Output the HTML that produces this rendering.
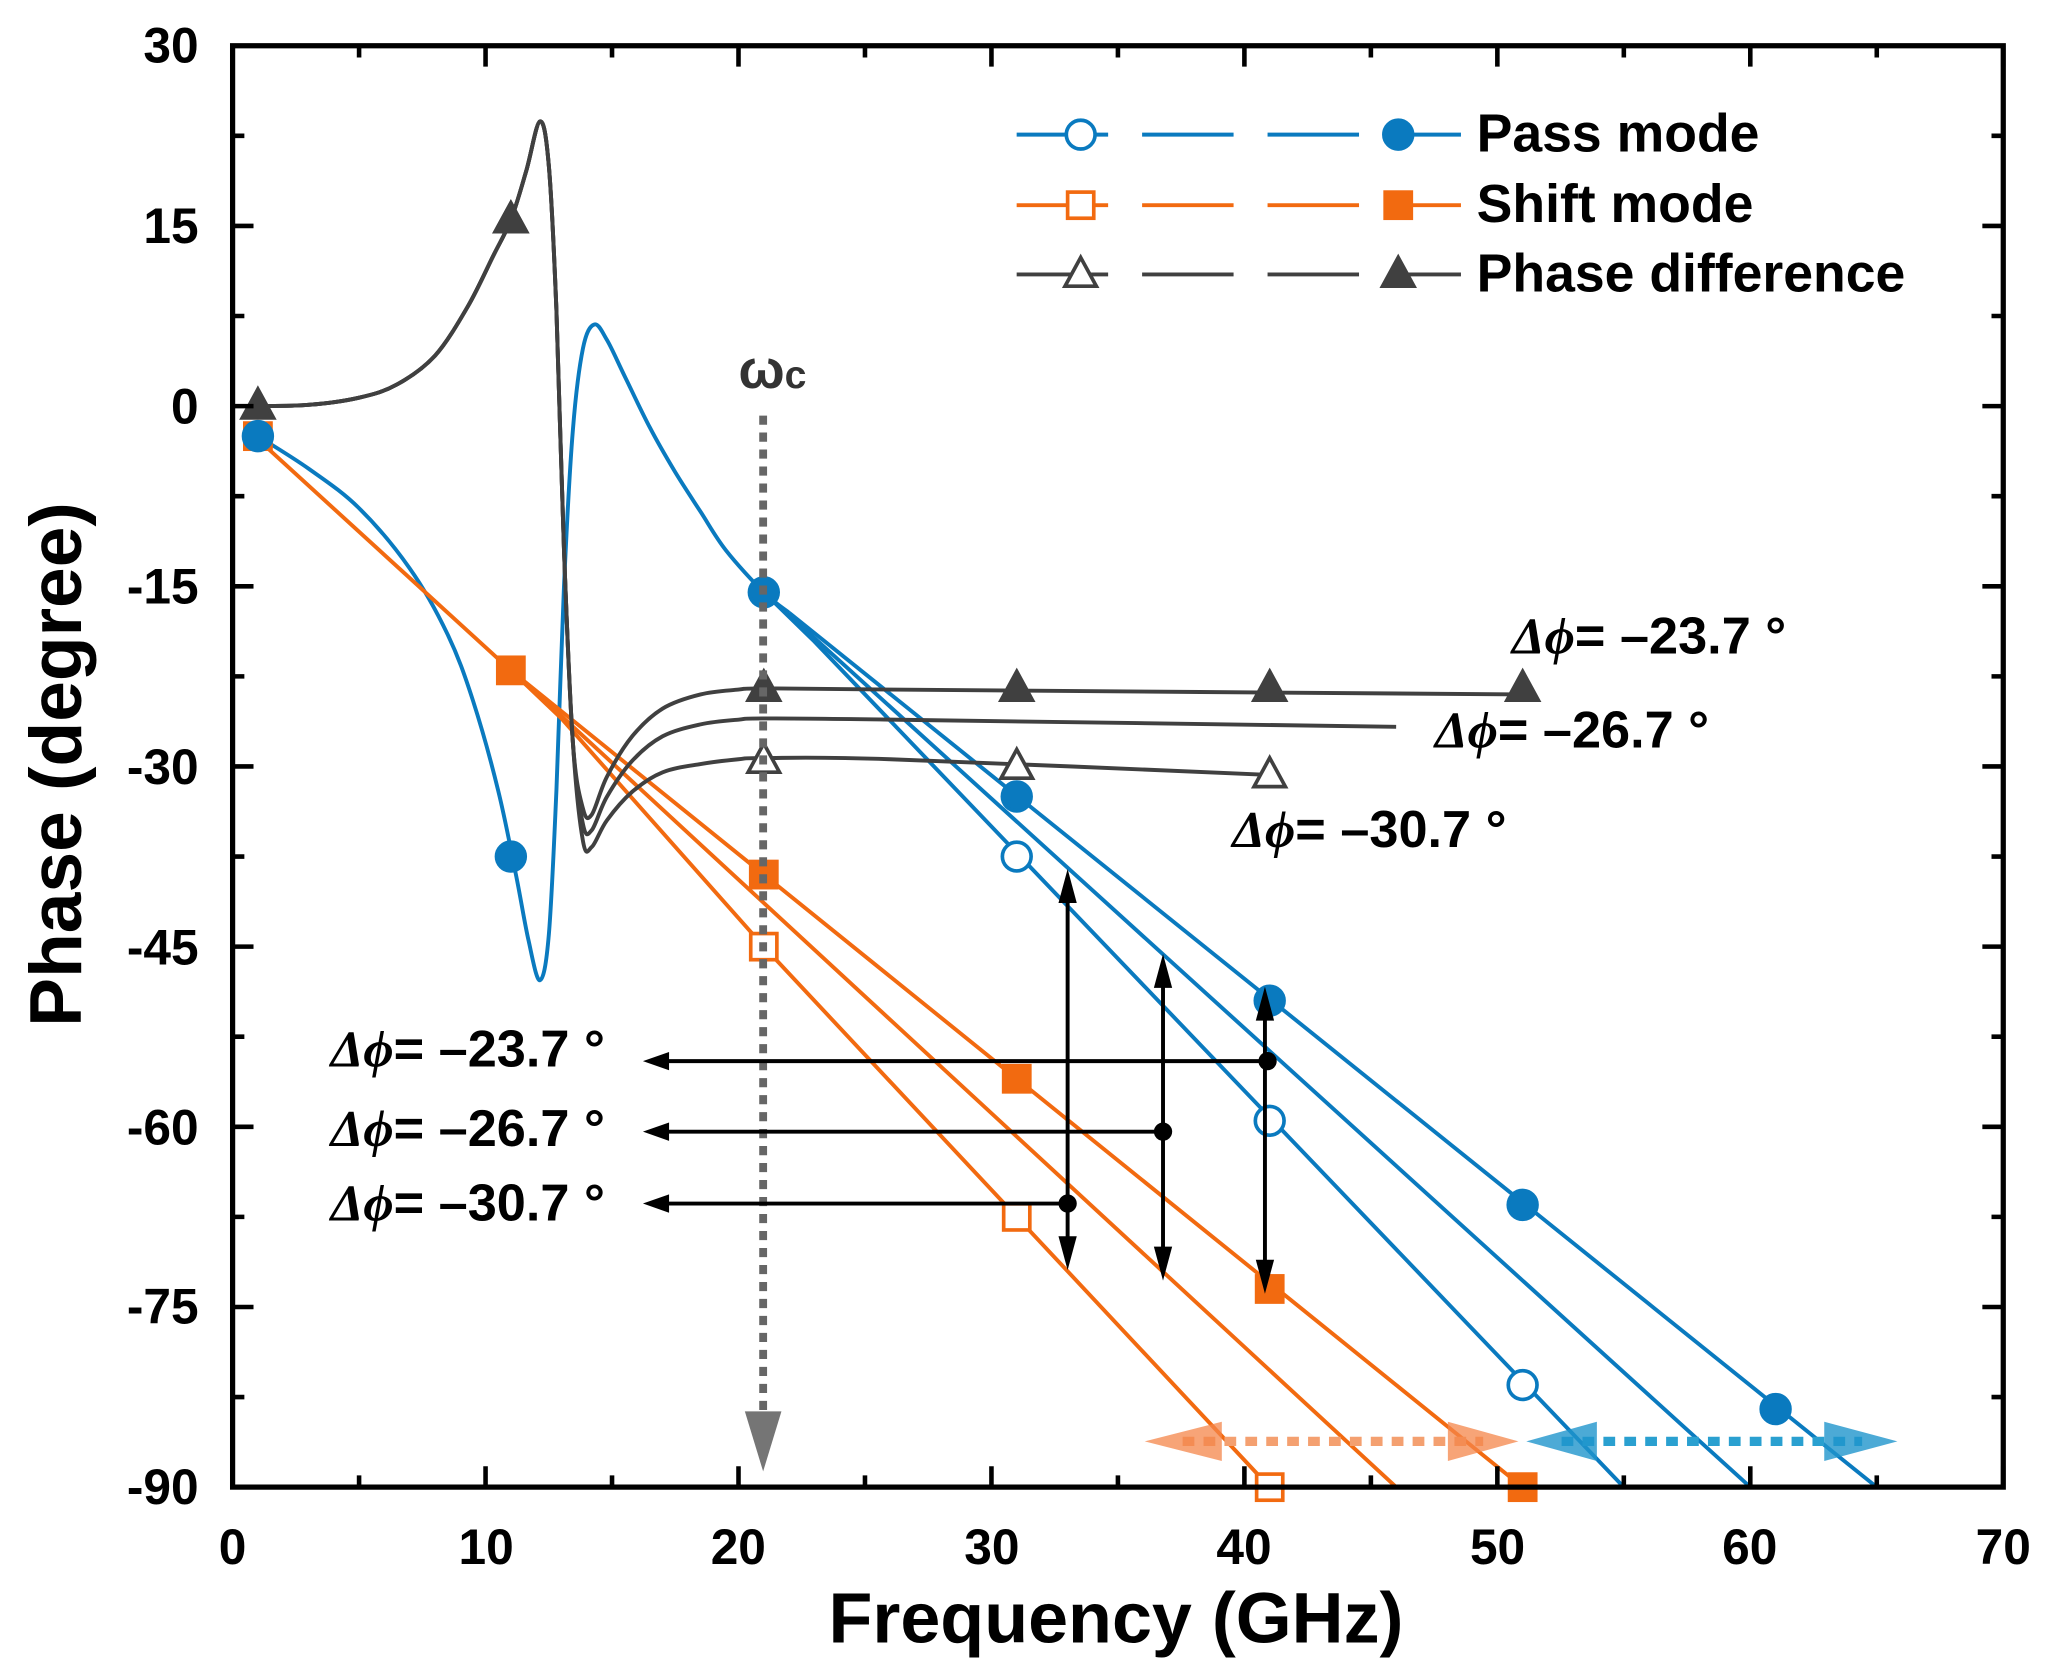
<!DOCTYPE html>
<html><head><meta charset="utf-8"><style>
html,body{margin:0;padding:0;background:#fff;}
svg{display:block;}
text{font-family:"Liberation Sans",Arial,sans-serif;font-weight:bold;}
</style></head><body>
<svg id="s" width="2049" height="1680" viewBox="0 0 1568 1285.6" xmlns="http://www.w3.org/2000/svg">
<rect width="1568" height="1286" fill="#fff"/>
<g id="plot"></g>
<g font-size="38" text-anchor="end">
<text x="152" y="48">30</text>
<text x="152" y="186">15</text>
<text x="152" y="324">0</text>
<text x="152" y="462">-15</text>
<text x="152" y="600">-30</text>
<text x="152" y="738">-45</text>
<text x="152" y="876">-60</text>
<text x="152" y="1013">-75</text>
<text x="152" y="1151">-90</text>
</g>
<g font-size="38" text-anchor="middle">
<text x="178" y="1197">0</text>
<text x="372" y="1197">10</text>
<text x="565" y="1197">20</text>
<text x="759" y="1197">30</text>
<text x="952" y="1197">40</text>
<text x="1146" y="1197">50</text>
<text x="1339" y="1197">60</text>
<text x="1533" y="1197">70</text>
</g>
<text x="854" y="1257" font-size="55" text-anchor="middle">Frequency (GHz)</text>
<text transform="translate(62,585) rotate(-90)" font-size="56" text-anchor="middle">Phase (degree)</text>
<g font-size="41">
<text x="1130" y="116">Pass mode</text>
<text x="1130" y="170">Shift mode</text>
<text x="1130" y="223">Phase difference</text>
</g>
<text x="565" y="297" font-size="42" fill="#333">ω<tspan font-size="30">c</tspan></text>
<g font-size="40">
<text x="1157" y="500"><tspan font-family="Liberation Serif" font-style="italic">Δϕ</tspan>= –23.7 °</text>
<text x="1098" y="572"><tspan font-family="Liberation Serif" font-style="italic">Δϕ</tspan>= –26.7 °</text>
<text x="943" y="648"><tspan font-family="Liberation Serif" font-style="italic">Δϕ</tspan>= –30.7 °</text>
<text x="253" y="816"><tspan font-family="Liberation Serif" font-style="italic">Δϕ</tspan>= –23.7 °</text>
<text x="253" y="877"><tspan font-family="Liberation Serif" font-style="italic">Δϕ</tspan>= –26.7 °</text>
<text x="253" y="934"><tspan font-family="Liberation Serif" font-style="italic">Δϕ</tspan>= –30.7 °</text>
</g>
</svg>
<script>
(function(){
var g=document.getElementById('plot');var NS='http://www.w3.org/2000/svg';
function X(f){return 178+f*19.357;}function Y(p){return 35+(30-p)*9.192;}
function el(t,a){var e=document.createElementNS(NS,t);for(var k in a)e.setAttribute(k,a[k]);g.appendChild(e);return e;}
function line(pts,c,w){var d='';pts.forEach(function(p,i){d+=(i?'L':'M')+X(p[0]).toFixed(1)+' '+Y(p[1]).toFixed(1);});return el('path',{d:d,fill:'none',stroke:c,'stroke-width':w||3,'stroke-linejoin':'round'});}
function smooth(pts,c,w){var P=pts.map(function(p){return [X(p[0]),Y(p[1])];});var d='M'+P[0][0]+' '+P[0][1];
 for(var i=0;i<P.length-1;i++){var p0=P[i-1]||P[i],p1=P[i],p2=P[i+1],p3=P[i+2]||P[i+1];
  d+='C'+(p1[0]+(p2[0]-p0[0])/6).toFixed(1)+' '+(p1[1]+(p2[1]-p0[1])/6).toFixed(1)+' '+(p2[0]-(p3[0]-p1[0])/6).toFixed(1)+' '+(p2[1]-(p3[1]-p1[1])/6).toFixed(1)+' '+p2[0].toFixed(1)+' '+p2[1].toFixed(1);}
 return el('path',{d:d,fill:'none',stroke:c,'stroke-width':w||3,'stroke-linejoin':'round'});}
var B='#0a7abf',O='#f26a10',G='#404040';
var bc=[[1,-2.5],[3,-5.2],[5,-8.5],[7,-13.5],[8.5,-19],[9.5,-24.5],[10.5,-32],[11.2,-39],[11.7,-44.5],[12.15,-47.8],[12.5,-44],[12.8,-32],[13.1,-15],[13.45,-2],[13.85,4.8],[14.3,6.8],[14.8,5.5],[15.5,2.5],[16.5,-1.8],[17.5,-5.5],[18.5,-8.8],[19.5,-12],[21,-15.5],[22,-17.2]];
smooth(bc,B);
line([[22,-17.2],[65,-90]],B);line([[21,-15.5],[23,-19.3],[60,-90]],B);line([[21,-15.5],[23,-19.6],[55,-90]],B);
line([[0.6,-2],[11,-22],[51,-90]],O);line([[11,-22],[13,-25.8],[46,-90]],O);line([[11,-22],[13,-26],[21,-45],[41,-90]],O);
function gc(mn,pl,end,ev){var r=pl-mn;return [[1,0],[3,0.1],[5,0.7],[6.5,1.8],[8,4.2],[9.3,8.3],[10.3,12.5],[11,15.5],[11.6,19.5],[12.15,23.7],[12.5,20],[12.8,8],[13.1,-12],[13.45,-28],[13.85,mn+0.5],[14.2,mn],[14.8,mn+0.3*r],[15.8,mn+0.62*r],[17,mn+0.84*r],[18.5,pl-0.5],[20,pl-0.1],[21,pl],[26,pl-0.1],[end,ev]];}
smooth(gc(-34,-23.5,51,-24),G);smooth(gc(-35.3,-26,46,-26.7),G);smooth(gc(-36.7,-29.3,41,-30.7),G);
function circ(f,p,c,fill){el('circle',{cx:X(f),cy:Y(p),r:11,fill:fill?c:'#fff',stroke:c,'stroke-width':2.8});}
function sq(f,p,c,fill){el('rect',{x:X(f)-10,y:Y(p)-10,width:20,height:20,fill:fill?c:'#fff',stroke:c,'stroke-width':2.8});}
function tri(f,p,c,fill){var x=X(f),y=Y(p);el('path',{d:'M'+x+' '+(y-13)+'L'+(x+12)+' '+(y+9)+'L'+(x-12)+' '+(y+9)+'Z',fill:fill?c:'#fff',stroke:c,'stroke-width':2.8});}
sq(1,-2.5,O,1);sq(11,-22,O,1);sq(21,-39,O,1);sq(31,-56,O,1);sq(41,-73.5,O,1);sq(51,-90,O,1);
sq(21,-45,O,0);sq(31,-67.5,O,0);sq(41,-90,O,0);
circ(1,-2.5,B,1);circ(11,-37.5,B,1);circ(21,-15.5,B,1);circ(31,-32.5,B,1);circ(41,-49.5,B,1);circ(51,-66.5,B,1);circ(61,-83.5,B,1);
circ(31,-37.5,B,0);circ(41,-59.5,B,0);circ(51,-81.5,B,0);
tri(11,15.5,G,0);tri(1,0,G,1);tri(11,15.5,G,1);
tri(21,-23.5,G,1);tri(31,-23.5,G,1);tri(41,-23.5,G,1);tri(51,-23.5,G,1);
tri(21,-29.5,G,0);tri(31,-30,G,0);tri(41,-30.7,G,0);
[[103,B,circ],[157,O,sq],[210,G,tri]].forEach(function(r){
 var y=r[0];el('path',{d:'M778 '+y+'H1118',stroke:r[1],'stroke-width':3,'stroke-dasharray':'70 26',fill:'none'});
 var f1=(827-178)/19.357,f2=(1070-178)/19.357,p=30-(y-35)/9.192;r[2](f1,p,r[1],0);r[2](f2,p,r[1],1);});
el('path',{d:'M584 318V1085',stroke:'#666','stroke-width':6,'stroke-dasharray':'7 6'});
el('path',{d:'M570 1080L598 1080L584 1126Z',fill:'#666',opacity:0.9});
[[970,812],[890,866],[817,921]].forEach(function(a){el('path',{d:'M'+a[0]+' '+a[1]+'H505',stroke:'#000','stroke-width':3});
 el('path',{d:'M492 '+a[1]+'L512 '+(a[1]-7)+'L512 '+(a[1]+7)+'Z',fill:'#000'});el('circle',{cx:a[0],cy:a[1],r:7,fill:'#000'});});
[[817,665,972],[890,730,980],[968,755,990]].forEach(function(a){var x=a[0];el('path',{d:'M'+x+' '+(a[1]+15)+'V'+(a[2]-15),stroke:'#000','stroke-width':3});
 el('path',{d:'M'+x+' '+a[1]+'L'+(x-7)+' '+(a[1]+26)+'L'+(x+7)+' '+(a[1]+26)+'Z',fill:'#000'});
 el('path',{d:'M'+x+' '+a[2]+'L'+(x-7)+' '+(a[2]-26)+'L'+(x+7)+' '+(a[2]-26)+'Z',fill:'#000'});});
el('path',{d:'M905 1103H1135',stroke:'#f4a070','stroke-width':7,'stroke-dasharray':'9 7'});
el('path',{d:'M876 1103L935 1088L935 1118Z',fill:'#f4864a',opacity:0.75});
el('path',{d:'M1162 1103L1108 1088L1108 1118Z',fill:'#f4864a',opacity:0.75});
el('path',{d:'M1195 1103H1425',stroke:'#2aa0d0','stroke-width':7,'stroke-dasharray':'9 7'});
el('path',{d:'M1168 1103L1222 1088L1222 1118Z',fill:'#1f95cc',opacity:0.8});
el('path',{d:'M1452 1103L1396 1088L1396 1118Z',fill:'#1f95cc',opacity:0.8});
el('rect',{x:178,y:35,width:1355,height:1103,fill:'none',stroke:'#000','stroke-width':4});
var t='';for(var f=0;f<=70;f+=5){var x=X(f),L=(f%10==0)?16:9;t+='M'+x+' 1138v-'+L+'M'+x+' 35v'+L;}
for(var p=30;p>=-90;p-=7.5){var y=Y(p),L=(p%15==0)?16:9;t+='M178 '+y+'h'+L+'M1533 '+y+'h-'+L;}
el('path',{d:t,stroke:'#000','stroke-width':3.5,fill:'none'});
})();
</script>
</body></html>
